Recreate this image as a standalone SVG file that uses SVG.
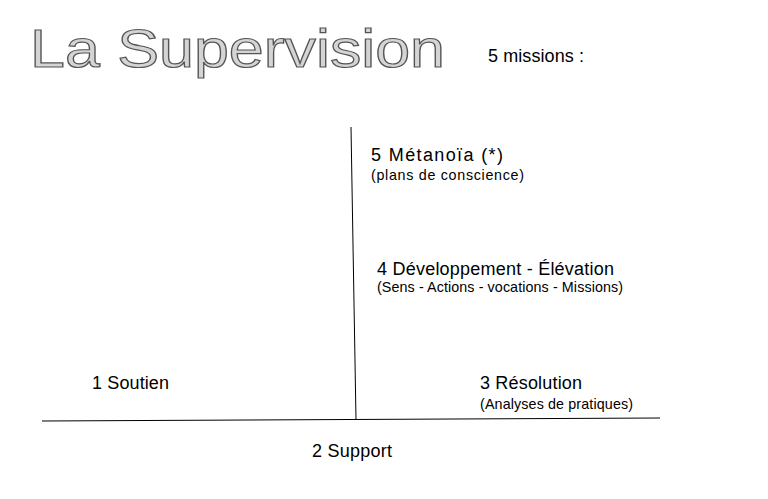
<svg xmlns="http://www.w3.org/2000/svg" width="768" height="499" viewBox="0 0 768 499">
<style>
text{font-family:"Liberation Sans",Arial,sans-serif;fill:#000}
.t{font-size:18px}.s{font-size:14.3px}
.title{font-size:54px;fill:#d4d4d4;stroke:#555;stroke-width:1.2}
line{stroke:#000;stroke-width:1}
</style>
<rect width="768" height="499" fill="#fff"/>
<text class="title" x="30" y="67" textLength="415" lengthAdjust="spacingAndGlyphs">La Supervision</text>
<text class="t" x="488" y="62" textLength="96">5 missions :</text>
<g id="connectors">
<line x1="351" y1="127" x2="356" y2="420"/>
<line x1="42" y1="421" x2="660" y2="418"/>
</g>
<g id="n5"><text class="t" x="371" y="161" textLength="132">5 Métanoïa (*)</text><text class="s" x="371" y="180" textLength="153">(plans de conscience)</text></g>
<g id="n4"><text class="t" x="377" y="275" textLength="237">4 Développement - Élévation</text><text class="s" x="377" y="292" textLength="246">(Sens - Actions - vocations - Missions)</text></g>
<g id="n1"><text class="t" x="92" y="389" textLength="77">1 Soutien</text></g>
<g id="n3"><text class="t" x="480" y="389" textLength="102">3 Résolution</text><text class="s" x="480" y="409" textLength="153">(Analyses de pratiques)</text></g>
<g id="n2"><text class="t" x="312" y="457" textLength="80">2 Support</text></g>
</svg>
